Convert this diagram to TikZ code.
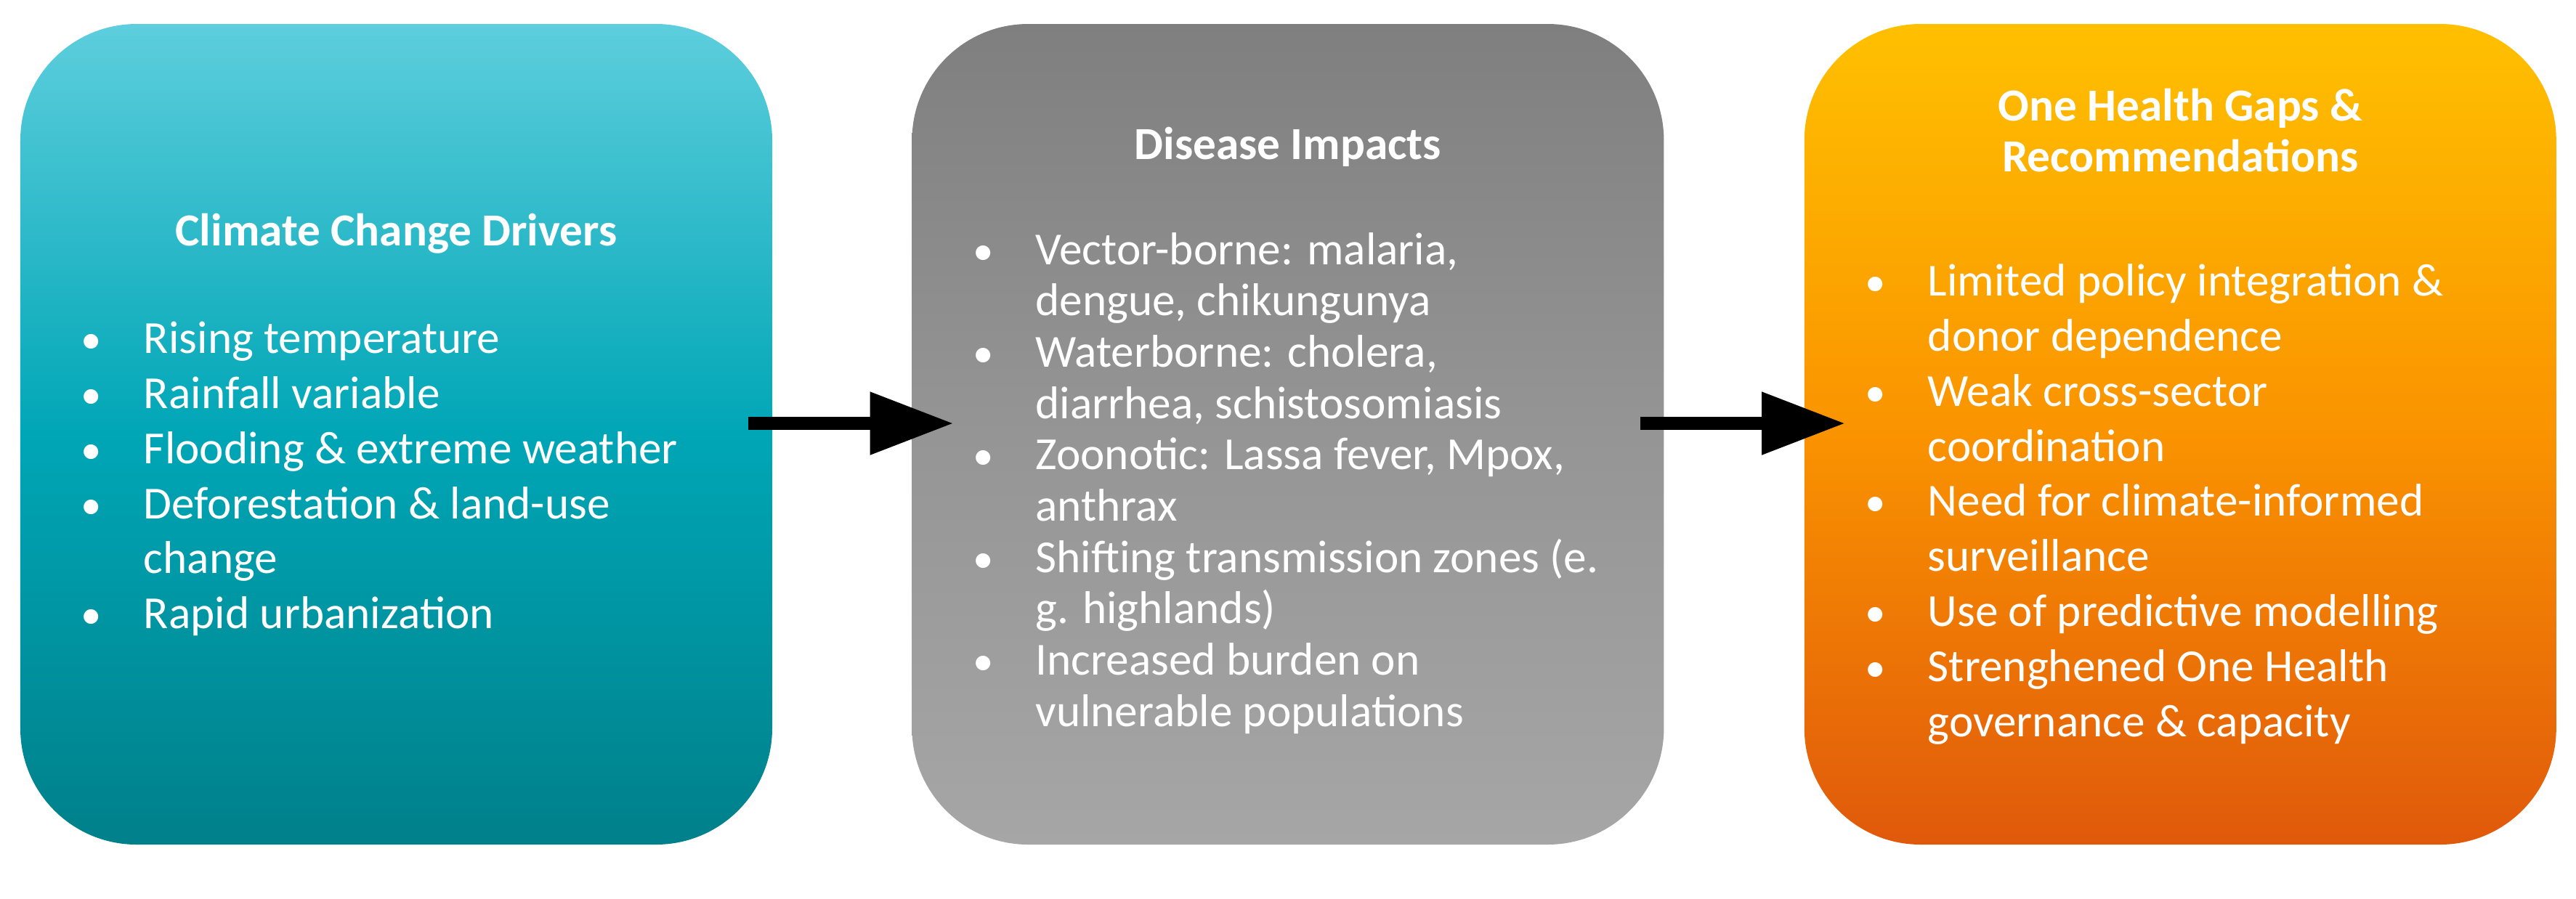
\documentclass[tikz,border=0pt]{standalone}
\usepackage{fontspec}
\setmainfont{Carlito}
\usepackage{tikz}
\usetikzlibrary{shapes,arrows.meta,positioning}

\definecolor{tealtop}{HTML}{5DCEDD}
\definecolor{tealmid}{HTML}{00A6B6}
\definecolor{tealbot}{HTML}{00808A}
\definecolor{greytop}{HTML}{7F7F7F}
\definecolor{greymid}{HTML}{959595}
\definecolor{greybot}{HTML}{A6A6A6}
\definecolor{ambertop}{HTML}{FFC000}
\definecolor{ambermid}{HTML}{FA9300}
\definecolor{amberbot}{HTML}{E0590B}

\newcommand{\blist}[1]{\begin{tabular}[t]{@{}p{0.86cm}@{}l@{}}#1\end{tabular}}
\newcommand{\ttl}[1]{\begin{tabular}[t]{@{}c@{}}#1\end{tabular}}
\newcommand{\bul}{\scalebox{0.9}{\textbullet}}

\begin{document}
\begin{tikzpicture}[
    panel/.style={rectangle, rounded corners=1.6cm, minimum width=10.35cm, minimum height=11.3cm, inner sep=0pt},
    heading/.style={anchor=base, inner sep=0pt, text=white, font=\fontsize{18}{20}\selectfont\bfseries},
    items/.style={anchor=base west, inner sep=0pt, text=white, font=\fontsize{18}{21.6}\selectfont},
    tight/.style={font=\fontsize{18}{20.1}\selectfont},
    arrow/.style={-{Triangle[length=1.15cm, width=0.82cm]}, line width=0.18cm, black}
]
\useasboundingbox (0,0) rectangle (35.46,-12.37);

% Panels
\node[panel, top color=tealtop, bottom color=tealbot, middle color=tealmid] (drivers) at (5.455,-5.98) {};
\node[panel, top color=greytop, bottom color=greybot, middle color=greymid, right=1.91cm of drivers] (impacts) {};
\node[panel, top color=ambertop, bottom color=amberbot, middle color=ambermid, right=1.92cm of impacts] (gaps) {};

% Headings
\node[heading] (driverstitle) at ([yshift=-3.06cm]drivers.north) {\ttl{Climate Change Drivers}};
\node[heading] (impactstitle) at ([yshift=-1.87cm]impacts.north) {\ttl{Disease Impacts}};
\node[heading] (gapstitle) at ([yshift=-1.34cm]gaps.north) {\ttl{One Health Gaps \&\\Recommendations}};

% Bullet lists
\node[items] (driverslist) at ([xshift=0.84cm, yshift=-4.54cm]drivers.north west) {\blist{
  \bul & Rising temperature\\
  \bul & Rainfall variable\\
  \bul & Flooding \& extreme weather\\
  \bul & Deforestation \& land-use\\
       & change\\
  \bul & Rapid urbanization}};
\node[items, tight] (impactslist) at ([xshift=0.84cm, yshift=-3.32cm]impacts.north west) {\blist{
  \bul & Vector-borne: malaria,\\
       & dengue, chikungunya\\
  \bul & Waterborne: cholera,\\
       & diarrhea, schistosomiasis\\
  \bul & Zoonotic: Lassa fever, Mpox,\\
       & anthrax\\
  \bul & Shifting transmission zones (e.\\
       & g. highlands)\\
  \bul & Increased burden on\\
       & vulnerable populations}};
\node[items] (gapslist) at ([xshift=0.84cm, yshift=-3.75cm]gaps.north west) {\blist{
  \bul & Limited policy integration \&\\
       & donor dependence\\
  \bul & Weak cross-sector\\
       & coordination\\
  \bul & Need for climate-informed\\
       & surveillance\\
  \bul & Use of predictive modelling\\
  \bul & Strenghened One Health\\
       & governance \& capacity}};

% Arrows
\draw[arrow] ([xshift=-0.34cm, yshift=0.15cm]drivers.east) -- ([xshift=0.58cm, yshift=0.15cm]impacts.west);
\draw[arrow] ([xshift=-0.33cm, yshift=0.15cm]impacts.east) -- ([xshift=0.57cm, yshift=0.15cm]gaps.west);

\end{tikzpicture}
\end{document}
